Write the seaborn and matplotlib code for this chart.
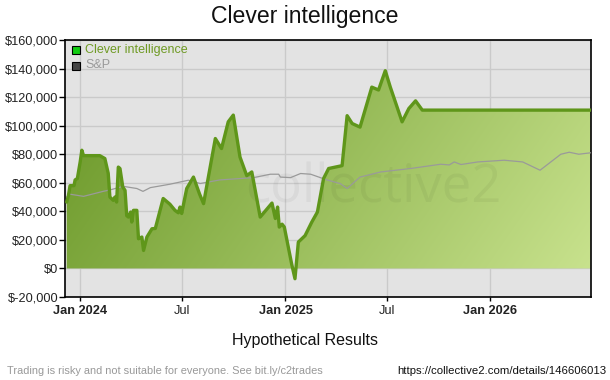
import numpy as np
import pandas as pd
import matplotlib
matplotlib.use("Agg")
import matplotlib.pyplot as plt
import matplotlib.dates as mdates
import seaborn as sns

# ---- data ----
strat_dates = ["2023-12-08", "2023-12-11", "2023-12-14", "2023-12-21", "2023-12-23", "2023-12-27",
               "2024-01-01", "2024-01-04", "2024-01-07", "2024-02-05", "2024-02-14", "2024-02-20",
               "2024-02-23", "2024-02-29", "2024-03-03", "2024-03-06", "2024-03-09", "2024-03-12",
               "2024-03-17", "2024-03-21", "2024-03-24", "2024-03-27", "2024-03-31", "2024-04-02",
               "2024-04-05", "2024-04-11", "2024-04-14", "2024-04-20", "2024-04-23", "2024-04-29",
               "2024-05-08", "2024-05-14", "2024-05-28", "2024-06-09", "2024-06-18", "2024-06-24",
               "2024-06-27", "2024-06-30", "2024-07-09", "2024-07-21", "2024-08-01", "2024-08-08",
               "2024-08-29", "2024-09-09", "2024-09-21", "2024-09-30", "2024-10-12", "2024-10-24",
               "2024-11-02", "2024-11-17", "2024-12-08", "2024-12-14", "2024-12-18", "2024-12-21",
               "2024-12-26", "2024-12-30", "2025-01-12", "2025-01-18", "2025-01-24", "2025-02-05",
               "2025-02-17", "2025-02-27", "2025-03-10", "2025-03-19", "2025-04-12", "2025-04-21",
               "2025-04-30", "2025-05-14", "2025-06-04", "2025-06-16", "2025-06-28", "2025-07-07",
               "2025-07-28", "2025-08-09", "2025-08-21", "2025-09-02", "2026-06-29"]
strat_values = [46500, 51000, 58000, 58000, 62000, 63000,
                74600, 82800, 79000, 79000, 77000, 66700,
                50000, 47700, 50000, 46500, 71000, 70000,
                57000, 54700, 37000, 36000, 39500, 32500,
                40700, 40700, 20800, 22000, 12600, 22000,
                27800, 28000, 49000, 45000, 40700, 39000,
                43000, 38500, 56000, 64000, 52000, 45400,
                91000, 84000, 102700, 107400, 78000, 65000,
                67600, 36000, 45800, 35000, 43000, 29000,
                31000, 29000, 3300, -7200, 18500, 23000,
                32500, 39500, 63000, 70000, 72000, 107000,
                101500, 99000, 127000, 125000, 138500, 127000,
                102700, 112000, 117400, 110900, 110900]

sp_dates = ["2023-12-08", "2023-12-14", "2024-01-07", "2024-02-11", "2024-02-23", "2024-03-18",
            "2024-04-11", "2024-04-22", "2024-05-05", "2024-06-09", "2024-07-12", "2024-08-02",
            "2024-09-06", "2024-11-05", "2024-12-05", "2024-12-20", "2024-12-23", "2025-01-10",
            "2025-01-28", "2025-02-15", "2025-03-16", "2025-04-09", "2025-04-21", "2025-05-14",
            "2025-06-20", "2025-08-12", "2025-10-05", "2025-10-20", "2025-10-29", "2025-11-10",
            "2025-12-10", "2026-01-26", "2026-02-28", "2026-03-31", "2026-05-07", "2026-05-22",
            "2026-06-08", "2026-06-29"]
sp_values = [50000, 52000, 50500, 54000, 55000, 57500,
             56000, 54000, 56600, 59000, 61800, 59500,
             62000, 63600, 66000, 66000, 64000, 63600,
             66500, 66000, 62000, 59400, 56000, 64000,
             67600, 70000, 73000, 72500, 74600, 72800,
             74600, 75800, 74600, 68800, 80000, 81400,
             80000, 81000]

y_ticks = [-20000, 0, 20000, 40000, 60000, 80000, 100000, 120000, 140000, 160000]
x_tick_dates = ["2024-01-01", "2024-07-01", "2025-01-01", "2025-07-01", "2026-01-01"]
x_tick_labels = ["Jan 2024", "Jul", "Jan 2025", "Jul", "Jan 2026"]
series_names = ["Clever intelligence", "S&P"]

# ---- frames ----
strat = pd.DataFrame({"date": pd.to_datetime(strat_dates), "value": strat_values})
sp = pd.DataFrame({"date": pd.to_datetime(sp_dates), "value": sp_values})

sns.set_theme(style="white")
plt.rcParams["font.family"] = ["Liberation Sans", "DejaVu Sans"]

fig = plt.figure(figsize=(6.1, 3.8), dpi=100)
ax = fig.add_axes([0.1066, 0.2184, 0.8615, 0.6763])
ax.set_facecolor("#e3e3e3")

xmin = pd.Timestamp("2023-12-05")
xmax = pd.Timestamp("2026-06-29")
ymin, ymax = -20000, 160000

# grid
for yt in y_ticks:
    ax.axhline(yt, color="#cacaca", lw=1.0, zorder=0.5)
for xt in x_tick_dates:
    ax.axvline(pd.Timestamp(xt), color="#cacaca", lw=1.0, zorder=0.5)

# gradient fill under strategy curve
poly = ax.fill_between(strat["date"], strat["value"], 0, color="none", lw=0, zorder=2)
nx, ny = 300, 200
xx, yy = np.meshgrid(np.linspace(0, 1, nx), np.linspace(0, 1, ny))
t = np.clip(0.78 * xx + 0.22 * yy, 0, 1)  # yy=0 at top row (origin upper)
c0 = np.array([0.41, 0.59, 0.15])
c1 = np.array([0.79, 0.89, 0.56])
img = c0[None, None, :] * (1 - t[..., None]) + c1[None, None, :] * t[..., None]
x0n, x1n = mdates.date2num(xmin), mdates.date2num(xmax)
im = ax.imshow(img, extent=[x0n, x1n, -10000, 140000], aspect="auto",
               origin="upper", zorder=2, interpolation="bilinear")
im.set_clip_path(poly.get_paths()[0], transform=ax.transData)

# watermark (above fill, faint)
ax.text(0.587, 0.42, "collective2", transform=ax.transAxes, fontsize=38,
        color="#000000", alpha=0.045, ha="center", va="center", zorder=2.5,
        family=["Open Sans", "DejaVu Sans"])

# lines
sns.lineplot(data=sp, x="date", y="value", ax=ax, color="#9a9a9a", lw=0.9, zorder=3)
sns.lineplot(data=strat, x="date", y="value", ax=ax, color="#5f961a", lw=2.4, zorder=4)

ax.set_xlim(xmin, xmax)
ax.set_ylim(ymin, ymax)
ax.set_xlabel("")
ax.set_ylabel("")

ax.set_yticks(y_ticks)
ax.set_yticklabels([f"${v:,}" if v >= 0 else f"$-{abs(v):,}" for v in y_ticks],
                   fontsize=9.2, color="#222222")
ax.set_xticks([pd.Timestamp(d) for d in x_tick_dates])
ax.set_xticklabels(x_tick_labels, fontsize=9.2, color="#222222")
for lbl in ax.get_xticklabels():
    if lbl.get_text().startswith("Jan"):
        lbl.set_fontweight("bold")
ax.tick_params(axis="y", direction="out", length=4, width=1, color="black", pad=1, left=True)
ax.tick_params(axis="x", direction="out", length=3, width=1, color="black", pad=3, bottom=True)
for s in ax.spines.values():
    s.set_visible(True)
    s.set_color("black")
    s.set_linewidth(1.2)

# legend (custom)
leg_colors = ["#11cc11", "#444444"]
leg_text_colors = ["#6f9a24", "#9a9a9a"]
for i, (name, fc, tc) in enumerate(zip(series_names, leg_colors, leg_text_colors)):
    yy_fig = 1 - (49.5 + 16 * i) / 380
    fig.patches.append(plt.Rectangle((72 / 610, yy_fig - 4 / 380), 8 / 610, 8 / 380,
                                     transform=fig.transFigure, facecolor=fc,
                                     edgecolor="black", lw=0.8, zorder=10))
    fig.text(85 / 610, yy_fig, name, color=tc, fontsize=9, va="center", ha="left")

# titles and footer
fig.text(0.5, 1 - 16 / 380, "Clever intelligence", ha="center", va="center",
         fontsize=16.6, color="#111111")
fig.text(0.5, 1 - 340 / 380, "Hypothetical Results", ha="center", va="center",
         fontsize=11.5, color="#111111")
fig.text(7 / 610, 1 - 371 / 380, "Trading is risky and not suitable for everyone. See bit.ly/c2trades",
         ha="left", va="center", fontsize=7.9, color="#999999")
fig.text(606 / 610, 1 - 371 / 380, "https://collective2.com/details/146606013",
         ha="right", va="center", fontsize=8.2, color="#111111")

fig.savefig("out.png", dpi=100)
